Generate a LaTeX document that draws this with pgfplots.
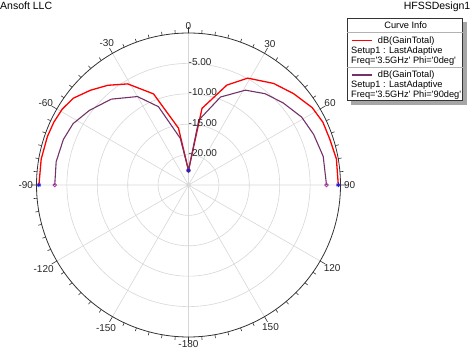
\documentclass[border=0pt]{standalone}
\usepackage{fontspec}
\setmainfont{Liberation Sans}[Ligatures=TeXOff]
\usepackage{pgfplots}
\pgfplotsset{compat=1.18}
\usepgfplotslibrary{polar}
\definecolor{cred}{RGB}{255,0,0}
\definecolor{cpurple}{RGB}{115,50,105}
\definecolor{cblue}{RGB}{30,30,220}
\definecolor{cmag}{RGB}{170,60,170}
\definecolor{cgrid}{RGB}{215,215,215}
\begin{document}
\begin{tikzpicture}[x=1pt,y=1pt]
\useasboundingbox (0,0) rectangle (474,353);
\begin{polaraxis}[
  at={(188.5pt,168pt)}, anchor=center,
  width=304pt, height=304pt, scale only axis,
  clip=false,
  ymin=0, ymax=25,
  x filter/.expression={90-x},
  y filter/.expression={y+25},
  xtick={0,30,...,330},
  xticklabels={90,60,30,0,-30,-60,-90,-120,-150,-180,150,120},
  minor x tick num=5,
  ytick={5,10,15,20},
  yticklabels={},
  ytick style={draw=none},
  tick align=inside,
  major tick length=6pt, minor tick length=3.5pt,
  xtick style={black!80, line width=0.6pt},
  minor tick style={black!80, line width=0.5pt},
  xmajorgrids, ymajorgrids,
  major grid style={cgrid, line width=0.6pt},
  separate axis lines,
  x axis line style={black!80, line width=0.8pt},
  y axis line style={draw=none},
  xticklabel style={font=\fontsize{10}{12}\selectfont, text=black!85},
]
\addplot[cred, line width=1.3pt] coordinates {
(-90,-0.40) (-80,-0.40) (-71,-0.46) (-65,-0.56) (-59,-0.77) (-53,-1.28) (-46,-2.57)
(-39,-3.9) (-31,-5.6) (-21,-8.95) (-10,-15.5) (0,-22.6) (10,-12.2) (21,-7.4) (29,-4.9)
(40,-3.2) (49,-2.1) (58,-1.0) (65,-0.6) (72,-0.57) (80,-0.3) (90,-0.36)};
\addplot[cpurple, line width=1.1pt] coordinates {
(-90,-3.0) (-80,-2.9) (-70,-3.1) (-62,-3.5) (-53,-4.6) (-42,-6.0) (-30,-8.2) (-21,-11.2)
(-10,-17.2) (0,-22.6) (9,-14.2) (20,-9.6) (31,-6.8) (40,-5.4) (49,-4.4) (59,-3.3)
(68,-2.8) (78,-2.35) (90,-2.3)};
\addplot[only marks, mark=asterisk, mark size=2.2pt, cblue, line width=0.9pt] coordinates {(-90,-0.40) (90,-0.36)};
\addplot[only marks, mark=o, mark size=1.8pt, cmag, line width=0.8pt] coordinates {(-90,-3.0) (90,-2.3)};
\addplot[only marks, mark=*, mark size=2pt, cblue, draw=cpurple] coordinates {(0,-22.6)};
\node[anchor=west, inner sep=0pt, font=\fontsize{10}{12}\selectfont, text=black!85, yshift=1.5pt] at (axis cs:90,20) {-5.00};
\node[anchor=west, inner sep=0pt, font=\fontsize{10}{12}\selectfont, text=black!85, yshift=1.5pt] at (axis cs:90,15) {-10.00};
\node[anchor=west, inner sep=0pt, font=\fontsize{10}{12}\selectfont, text=black!85, yshift=1.5pt] at (axis cs:90,10) {-15.00};
\node[anchor=west, inner sep=0pt, font=\fontsize{10}{12}\selectfont, text=black!85, yshift=1.5pt] at (axis cs:90,5) {-20.00};
\end{polaraxis}
% header texts
\node[anchor=north west, inner sep=0pt, font=\fontsize{10.5}{12}\selectfont] at (0,351.5) {Ansoft LLC};
\node[anchor=north east, inner sep=0pt, font=\fontsize{10.5}{12}\selectfont] at (470.5,351.5) {HFSSDesign1};
% legend box
\fill[black!35] (351.3,248.3) rectangle (466.7,330.7);
\fill[white] (347.3,252.3) rectangle (462.7,334.7);
\draw[black!80, line width=0.8pt] (347.3,252.3) rectangle (462.7,334.7);
\draw[black!30, line width=0.6pt] (347.3,320.7) -- (462.7,320.7);
\draw[black!30, line width=0.6pt] (347.3,285.7) -- (462.7,285.7);
\node[font=\fontsize{9.25}{11}\selectfont, inner sep=0pt] at (405.7,327.3) {Curve Info};
\draw[cred, line width=1.3pt] (351.7,312.3) -- (371.7,312.3);
\node[anchor=west, inner sep=0pt, font=\fontsize{9.25}{11}\selectfont] at (377.7,312.3) {dB(GainTotal)};
\node[anchor=west, inner sep=0pt, font=\fontsize{9.25}{11}\selectfont] at (351,302.3) {Setup1 : LastAdaptive};
\node[anchor=west, inner sep=0pt, font=\fontsize{9.25}{11}\selectfont] at (351,292.3) {Freq='3.5GHz' Phi='0deg'};
\draw[cpurple, line width=1.3pt] (351.7,278) -- (371.7,278);
\node[anchor=west, inner sep=0pt, font=\fontsize{9.25}{11}\selectfont] at (377.7,278) {dB(GainTotal)};
\node[anchor=west, inner sep=0pt, font=\fontsize{9.25}{11}\selectfont] at (351,268) {Setup1 : LastAdaptive};
\node[anchor=west, inner sep=0pt, font=\fontsize{9.25}{11}\selectfont] at (351,258) {Freq='3.5GHz' Phi='90deg'};
\end{tikzpicture}
\end{document}
